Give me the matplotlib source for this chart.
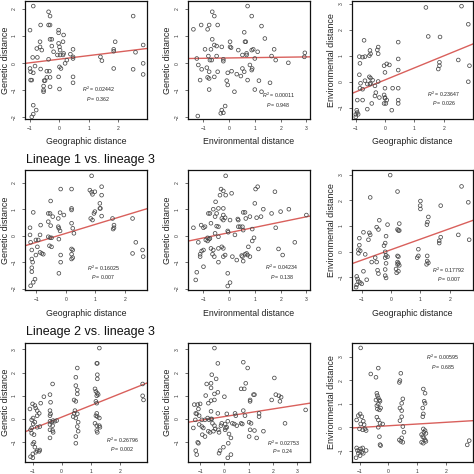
import matplotlib
matplotlib.use("Agg")
import matplotlib.pyplot as plt

plt.rcParams['font.family'] = ['Liberation Sans', 'DejaVu Sans']
plt.rcParams['mathtext.fontset'] = 'custom'
plt.rcParams['mathtext.rm'] = 'Liberation Sans'
plt.rcParams['mathtext.it'] = 'Liberation Sans:italic'

# ---------------- data ----------------
titles = ["Lineage 1 vs. lineage 3", "Lineage 2 vs. lineage 3"]
xlabels = ["Geographic distance", "Environmental distance", "Geographic distance"]
ylabels = ["Genetic distance", "Genetic distance", "Environmental distance"]

# row 1
p1_x = [-0.88, -0.99, -0.36, -0.31, -0.36, -0.31, -0.63, -0.02, -0.02, 0.15,
        -0.65, -0.25, -0.31, -0.65, -0.59, -0.76, -0.25, -0.19, -0.02, 0.01,
        0.03, 0.13, 0.15, 0.13, -0.06, 0.03, 0.47, 0.47, 0.47, 0.26,
        0.20, 0.38, -0.36, -0.74, -0.90, -0.99, -0.97, -0.88, -0.93, -0.97,
        -0.82, -0.63, -0.42, -0.33, -0.31, -0.42, -0.51, -0.48, -0.53, -0.53,
        -0.53, -0.31, -0.02, 0.01, 0.01, 0.06, 0.47, 0.47, -0.88, -0.78,
        -0.88, -0.93, 1.40, 1.45, 1.90, 1.85, 1.85, 1.85, 2.51, 2.59,
        2.51, 2.85, 2.85, 2.85]
p1_y = [2.11, 1.22, 1.90, 1.74, 1.41, 1.41, 1.41, 1.22, 1.12, 1.04,
        0.79, 0.88, 0.88, 0.60, 0.48, 0.54, 0.63, 0.42, 0.73, 0.60,
        0.48, 0.79, 0.36, 0.30, 0.30, 0.30, 0.51, 0.23, 0.17, 0.11,
        -0.01, 0.33, 0.14, 0.21, 0.21, -0.20, -0.32, -0.36, -0.63, -0.63,
        -0.11, -0.22, -0.30, -0.30, -0.53, -0.53, -0.65, -0.65, -0.85, -1.06,
        -1.00, -0.88, -0.51, -0.96, -0.14, -0.20, -0.51, -0.73, -1.56, -1.74,
        -1.89, -1.99, 0.23, 0.09, 0.79, 0.51, 0.44, -0.20, 1.74, 0.40,
        -0.23, 0.67, -0.01, -0.42]

p2_x = [-1.38, -1.08, -0.77, -0.65, -0.57, -0.44, -0.83, -0.93, -0.65, -0.57,
        -0.48, -0.70, -0.48, -0.80, -0.74, -0.67, -1.25, -0.28, -0.22, -0.22,
        0.04, 0.04, 0.08, 0.59, 0.62, 0.65, 0.68, 0.68, 0.36, 0.72,
        0.88, 0.88, 0.94, 1.11, 1.26, 1.39, -1.19, -1.06, -0.86, -0.77,
        -0.83, -0.77, -1.12, -0.57, -0.44, -0.77, -0.05, 0.10, -0.09, -0.05,
        0.21, 0.30, 0.46, 0.52, 0.59, 0.72, 0.81, 0.88, 0.90, 1.00,
        1.00, 1.16, 1.26, 1.59, 1.65, 1.75, 1.81, 2.30, 2.92, 2.94,
        -0.15, -0.28, -0.22, -0.32, -1.21, 0.52]
p2_y = [1.25, 1.41, 1.41, 1.90, 1.74, 1.41, 1.25, 0.51, 0.88, 0.67,
        0.63, 0.51, 0.26, 0.26, 0.11, 0.11, 0.17, 0.60, 0.14, 0.07,
        0.79, 0.60, 0.57, 1.14, 0.79, 0.79, 0.36, 0.30, 0.48, 2.11,
        1.74, 0.48, 0.51, 0.42, 1.37, 0.91, -0.07, -0.23, -0.17, -0.32,
        -0.53, -0.57, -0.63, -0.51, -0.32, -0.98, -0.36, -0.30, -0.65, -0.81,
        -1.06, -0.41, -0.48, -0.20, -0.32, -0.63, -0.07, -0.26, -0.20, 0.17,
        -0.98, -0.65, -1.06, -0.73, 0.26, 0.51, 0.11, 0.01, 0.23, 0.38,
        -1.59, -1.74, -1.84, -1.86, -1.96, 0.30]

p3_x = [1.39, 2.60, 2.83, 1.47, 1.87, -0.71, 0.45, -0.87, -0.76, -0.68,
        -0.85, -0.51, -0.49, -0.53, -0.23, -0.26, -0.23, -0.03, 0.06, 0.15,
        0.00, 0.45, 0.45, -0.87, -0.53, -0.49, -0.68, -0.60, -0.83, -0.85,
        -0.76, -0.49, -0.51, -0.42, -0.34, -0.23, -0.31, -0.34, -0.19, 0.00,
        -0.03, 0.00, 0.00, 0.06, 0.03, -0.03, 0.23, 0.26, 0.45, 0.45,
        0.45, -0.76, -0.60, -0.45, -0.94, -0.96, -0.94, -0.99, -0.91, -0.99,
        1.85, 1.85, 1.81, 2.49, 2.87, 2.83]
p3_y = [2.87, 2.92, 2.22, 1.75, 1.73, 1.60, 1.53, 0.97, 0.95, 0.97,
        0.71, 1.21, 1.08, 1.01, 1.34, 1.23, 1.08, 0.62, 0.69, 0.65,
        0.36, 0.45, 0.88, 0.27, 0.19, 0.14, 0.04, -0.09, -0.06, -0.25,
        -0.29, -0.06, -0.09, 0.06, -0.16, 0.01, -0.42, -0.55, -0.61, -0.25,
        -0.51, -0.61, -0.64, -0.71, -0.84, -0.84, -1.10, -0.25, -0.25, -0.71,
        -0.84, -0.71, -1.06, -0.84, -0.71, -1.10, -1.19, -1.26, -1.26, -1.36,
        0.75, 0.62, 0.49, 0.84, 0.62, 0.00]

# row 2
p4_x = [0.87, -0.18, 0.19, 0.81, 0.87, 0.90, 0.98, 1.21, 1.21, -0.52,
        1.15, 1.17, 1.15, -1.11, -0.60, -0.54, -0.45, -0.26, -0.20, -0.07,
        0.19, 0.19, 0.98, 0.95, 1.21, 0.84, 0.90, 1.58, 2.26, 1.63,
        1.63, 1.60, -1.22, -0.86, -0.60, -0.52, -0.26, -0.24, -0.20, 0.19,
        0.23, 0.27, -1.22, -1.20, -0.88, -1.02, -0.94, -0.97, -0.60, -0.54,
        -0.49, -0.56, -0.49, -0.24, -0.88, -0.82, -0.77, -1.02, -1.16, -1.16,
        -1.13, -1.16, -1.16, -1.05, -1.11, -1.20, -0.18, -0.18, -0.24, 0.19,
        0.23, 0.19, 0.23, 0.19, 2.26, 2.37, 2.60, 2.62]
p4_y = [2.26, 1.76, 1.76, 1.72, 1.64, 1.56, 1.66, 1.85, 1.53, 1.31,
        1.22, 1.03, 1.03, 0.88, 0.84, 0.84, 0.72, 0.65, 0.87, 0.78,
        1.03, 0.97, 0.91, 0.84, 0.74, 0.65, 0.59, 0.65, 0.65, 0.40,
        0.30, 0.25, 0.30, 0.40, 0.53, 0.38, 0.34, 0.28, 0.18, 0.47,
        0.28, 0.09, 0.03, -0.25, 0.03, -0.16, -0.16, -0.42, -0.04, -0.08,
        -0.08, -0.38, -0.42, -0.13, -0.63, -0.67, -0.70, -0.73, -0.54, -0.88,
        -1.00, -1.21, -1.36, -1.64, -1.76, -1.89, -0.73, -1.00, -1.42, -0.50,
        -0.54, -0.70, -0.83, -0.88, -0.67, -0.25, -0.54, -0.79]

p5_x = [-0.13, -0.31, -0.22, -0.13, 0.10, -0.35, -0.52, -0.61, -0.41, -0.22,
        -0.80, -0.74, -0.48, -0.22, -0.15, -0.28, -0.22, -0.54, -0.70, -0.93,
        -0.99, -1.38, -1.08, -0.48, -0.41, -0.54, -0.83, -0.77, -0.74, -0.90,
        -0.83, -1.19, -0.41, -0.05, -0.03, 0.04, 0.23, 0.36, 0.43, 0.52,
        0.55, 0.55, 0.62, 0.34, 0.36, 0.65, 0.81, 1.00, 1.03, 1.11,
        1.07, 1.24, 1.33, 1.65, 1.78, 2.00, 2.32, 3.00, 1.81, 0.90,
        0.97, 0.90, 0.75, 0.49, 0.52, 0.62, 0.68, 0.72, 0.81, 0.55,
        0.30, 0.13, -0.22, -0.15, -0.41, -0.57, -0.64, -0.70, -0.61, -0.41,
        -0.28, -0.22, -1.06, -1.12, -0.99, -1.12, -0.99, -1.25, -1.29, -0.05,
        0.04, -0.05, 1.14, 1.92, 2.08, 2.55]
p5_y = [2.26, 1.76, 1.69, 1.53, 1.60, 1.53, 1.28, 1.00, 1.03, 1.03,
        0.84, 0.84, 0.84, 0.78, 0.68, 0.65, 0.59, 0.72, 0.47, 0.34,
        0.30, 0.30, 0.40, 0.36, 0.34, 0.09, -0.08, -0.13, -0.10, -0.16,
        -0.20, -0.25, -0.04, 0.18, 0.13, 0.59, 0.03, 0.34, 0.34, 0.34,
        0.21, 0.88, 0.88, 0.63, 0.59, 0.65, 0.72, 1.22, 1.76, 1.85,
        0.68, 0.72, 1.00, 0.84, 1.66, 0.91, 1.00, 0.78, 0.30, 0.25,
        -0.08, -0.20, -0.42, -0.75, -0.79, -0.70, -0.67, -0.73, -0.79, -0.96,
        -0.92, -0.79, -0.79, -0.73, -1.00, -0.79, -0.70, -0.48, -0.54, -0.48,
        -0.42, -0.48, -0.58, -0.70, -0.54, -0.79, -1.17, -1.38, -1.67, -1.42,
        -1.77, -1.90, -0.50, -0.50, -0.73, -0.25]

p6_x = [-0.03, 0.22, -0.71, 2.40, 2.63, 1.00, 0.99, 1.00, 1.69, 1.27,
        1.24, 1.22, -0.40, -0.12, 0.28, -0.49, -0.43, 0.22, 0.25, 0.28,
        -0.94, -0.74, -0.71, -0.17, -1.08, -0.77, -0.20, -0.24, -1.08, -1.11,
        -1.05, -1.11, -0.88, -0.20, -0.17, -0.12, -0.20, -0.54, 0.22, 0.25,
        0.22, 0.25, 0.22, 0.28, 0.17, 0.25, 0.19, -0.17, -0.20, -0.20,
        -0.17, -0.49, -0.46, -0.43, -0.66, -0.94, -1.17, -1.14, -1.11, -1.17,
        -1.05, -1.00, -1.19, -0.83, 0.93, 0.93, 0.89, 1.23, 1.23, 1.27,
        1.21, 1.64, 1.69, 1.64, 2.29, 2.66]
p6_y = [2.98, 2.34, 2.11, 2.54, 1.92, 1.97, 1.79, 1.66, 1.79, 1.35,
        1.15, 1.05, 1.22, 1.05, 1.09, 0.95, 0.86, 0.86, 0.82, 0.82,
        0.75, 0.73, 0.65, 0.60, 0.52, 0.46, 0.33, 0.23, 0.25, 0.07,
        0.03, -0.07, -0.11, -0.01, -0.15, -0.20, -0.24, -0.24, -0.17, -0.20,
        -0.41, -0.46, -0.50, -0.54, -0.68, -0.77, -0.83, -0.46, -0.70, -0.94,
        -1.03, -0.41, -0.73, -0.86, -0.41, -0.77, -0.97, -1.07, -1.17, -1.30,
        -1.21, -1.26, -1.39, -1.10, 0.09, -0.17, -0.24, -0.17, -0.37, -0.44,
        -0.50, 0.42, 0.56, 0.33, 0.65, 0.46]

# row 3
p7_x = [1.30, 1.21, 1.23, 0.54, 1.23, 1.23, 0.49, -0.31, 0.49, 0.54,
        0.54, 1.15, 1.18, 1.23, 1.26, 1.21, -0.40, -0.61, 2.79, 2.82,
        2.79, 0.43, 0.49, -0.38, 1.21, 1.18, -0.40, -0.38, -0.40, -1.00,
        -0.92, -0.89, -1.09, -0.84, -0.77, -0.84, -0.72, 0.46, 0.43, 0.54,
        0.40, 0.49, 1.21, 1.18, 1.23, 1.30, -0.98, -1.03, -0.92, -0.98,
        -1.03, -1.07, -0.84, -0.75, -0.40, -0.34, -0.29, -0.23, -0.17, -0.40,
        -0.31, -0.40, -0.31, -0.29, -0.40, 0.57, 0.54, 0.57, 0.49, 0.49,
        1.15, 1.21, 1.30, 1.21, 1.23, 1.32, -1.03, -0.95, -0.99, -0.95,
        -0.92, -0.84, -0.77, -0.75, -0.99, -1.07, -0.99, -0.89]
p7_y = [3.06, 2.40, 2.40, 2.20, 1.91, 1.73, 1.80, 1.51, 1.44, 1.25,
        1.08, 1.30, 1.19, 1.11, 1.05, 1.00, 1.05, 0.96, 1.00, 0.82,
        1.51, 0.82, 0.76, 0.72, 0.68, 0.76, 0.36, 0.22, 0.14, 0.65,
        0.58, 0.47, 0.43, 0.36, 0.24, 0.14, 0.68, 0.36, 0.24, 0.22,
        0.10, 0.04, 0.24, 0.14, 0.10, 0.04, 0.04, -0.04, -0.14, -0.22,
        -0.39, -0.47, -0.36, -0.33, -0.10, -0.14, -0.07, -0.10, -0.07, -0.24,
        -0.29, -0.47, -0.50, -0.58, -0.82, -0.14, -0.33, -0.53, -0.76, -1.05,
        -0.19, -0.29, -0.29, -0.50, -0.58, -0.36, -0.62, -0.68, -1.08, -1.01,
        -1.22, -1.37, -1.40, -1.34, -1.51, -1.63, -1.68, -1.44]

p8_x = [-0.41, -0.27, 0.78, 0.96, -0.52, -0.73, -0.55, -0.34, 0.88, -0.55,
        0.69, 0.82, -0.41, -0.27, 0.00, -0.77, 1.20, 1.24, 1.06, 1.06,
        2.06, 2.12, 2.25, 2.34, 2.29, 1.95, 3.35, 2.50, -1.24, -1.10,
        -1.00, -1.07, -0.66, -0.55, -0.41, -0.55, -0.27, -1.18, -1.14, -1.04,
        -1.20, -1.28, -0.93, -1.04, -0.80, -0.69, -0.63, -0.55, -0.52, -0.93,
        -0.87, -0.49, -0.41, -0.38, -0.45, -0.66, -0.59, -0.91, -0.80, -1.10,
        -1.07, -1.18, -1.14, -0.22, -0.25, -0.14, -0.11, 0.10, 0.14, 0.03,
        0.05, 0.03, 0.10, 0.19, 0.33, 0.41, 0.51, 0.44, 0.47, -0.04,
        0.16, 0.27, -0.18, -0.22, 0.14, 0.27, 0.78, 0.85, 0.69, 0.74,
        1.02, 1.10, 1.06, 1.02, 1.24, 1.33, 1.43, 1.43, 1.61]
p8_y = [3.06, 2.40, 2.45, 2.20, 1.91, 1.51, 1.54, 1.73, 1.54, 1.34,
        1.30, 1.30, 1.08, 1.15, 0.96, 1.01, 1.05, 1.05, 0.82, 0.76,
        1.77, 1.05, 1.00, 0.94, 0.76, 0.82, 0.39, -0.19, 0.62, 0.62,
        0.65, 0.43, 0.68, 0.79, 0.82, 0.33, 0.24, 0.24, 0.22, 0.14,
        -0.04, -0.39, -0.04, -0.24, -0.04, 0.04, -0.04, 0.00, 0.00, -0.33,
        -0.39, -0.19, -0.29, -0.43, -0.53, -0.53, -0.58, -0.68, -0.76, -1.01,
        -1.05, -1.37, -1.54, -0.58, -0.47, -0.29, -0.19, 0.22, -0.10, -0.22,
        -0.39, -0.47, -0.36, -0.65, -0.19, -0.22, -0.29, 0.24, 0.14, -1.22,
        -1.05, -0.82, -1.37, -1.48, -1.68, -1.54, 0.36, 0.14, -0.19, -0.22,
        -0.14, -0.19, -0.47, -0.76, -0.50, -0.82, 0.24, 0.10, -0.53]

p9_x = [-0.96, -0.61, -0.43, -0.35, 0.43, 0.40, 0.38, -0.40, -0.38, -0.35,
        -0.31, -0.29, -0.35, -0.40, -0.38, -0.31, -0.27, -0.43, 1.21, 1.27,
        1.24, 1.27, 1.19, 1.21, 1.19, 0.50, 0.46, 0.40, 0.46, -0.40,
        -0.35, -0.29, -0.20, 0.46, 0.40, 0.54, 0.50, -1.10, -1.04, -0.98,
        -0.92, -0.87, -0.96, -1.00, -0.89, -0.84, -0.81, -0.77, -0.35, -0.31,
        -0.27, -0.29, 0.38, 0.43, 0.50, 0.46, 1.21, 1.27, 1.23, 1.30,
        1.15, 1.19, 1.23, 1.27, 1.15, 1.30, 1.21, 2.80, 2.73, -1.10,
        -1.07, -1.00, -1.04, -0.96, -0.92, -1.12, -0.98, -0.87, -0.89, -0.77]
p9_y = [3.38, 2.27, 2.13, 2.52, 2.30, 1.99, 1.91, 1.45, 1.35, 1.25,
        1.16, 1.11, 0.99, 0.92, 0.78, 0.74, 0.82, 1.16, 1.63, 1.45,
        1.11, 1.02, 0.82, 0.57, 0.45, 1.21, 1.02, 0.82, 0.71, 0.43,
        0.31, 0.17, 0.14, 0.45, 0.28, -0.21, 0.03, 0.31, 0.50, 0.57,
        0.45, 0.26, 0.14, -0.07, -0.11, 0.11, -0.07, -0.14, 0.00, -0.40,
        -0.78, -0.74, -0.54, -0.60, -0.64, -0.45, -0.07, -0.14, -0.21, -0.26,
        -0.31, -0.40, -0.45, -0.54, -0.64, -0.60, -0.68, -0.57, -0.75, -0.88,
        -0.99, -1.02, -1.11, -0.92, -1.06, -1.30, -1.21, -1.11, -0.88, -0.99]

# regression lines (intercept, slope) and statistics
intercepts = [0.144, 0.19, 0.07, 0.09, 0.114, 0.073, 0.077, 0.103, 0.064]
slopes = [0.133, 0.013, 0.465, 0.338, 0.20, 0.41, 0.502, 0.164, 0.074]
r2_values = ["0.02442", "0.00011", "0.23647", "0.16025", "0.04234",
             "0.17792", "0.26796", "0.02753", "0.00595"]
p_values = ["0.362", "0.948", "0.026", "0.007", "0.138", "0.007",
            "0.002", "0.24", "0.685"]

# ---------------- layout / style ----------------
xs = [p1_x, p2_x, p3_x, p4_x, p5_x, p6_x, p7_x, p8_x, p9_x]
ys = [p1_y, p2_y, p3_y, p4_y, p5_y, p6_y, p7_y, p8_y, p9_y]
xlims = [(-1.16, 2.98), (-1.59, 3.14), (-1.12, 2.99),
         (-1.39, 2.75), (-1.59, 3.14), (-1.33, 2.79),
         (-1.26, 2.94), (-1.50, 3.53), (-1.26, 2.93)]
ylims = [(-2.07, 2.28), (-2.07, 2.28), (-1.44, 3.10),
         (-2.05, 2.48), (-2.05, 2.48), (-1.50, 3.18),
         (-1.86, 3.28), (-1.86, 3.28), (-1.48, 3.59)]
xticks = [[-1, 0, 1, 2], [-1, 0, 1, 2, 3], [-1, 0, 1, 2]] * 3
yticks = [[-2, -1, 0, 1, 2], [-2, -1, 0, 1, 2], [-1, 0, 1, 2, 3],
          [-2, -1, 0, 1, 2], [-2, -1, 0, 1, 2], [-1, 0, 1, 2, 3],
          [-1, 0, 1, 2, 3], [-1, 0, 1, 2, 3], [-1, 0, 1, 2, 3]]
stat_pos = [(0.60, 0.25, 0.17), (0.74, 0.20, 0.12), (0.76, 0.21, 0.14),
            (0.64, 0.18, 0.11), (0.77, 0.19, 0.11), (0.80, 0.16, 0.09),
            (0.80, 0.18, 0.11), (0.78, 0.16, 0.09), (0.75, 0.88, 0.80)]

W = H = 474.0
cols = [(25, 147), (188, 310), (352, 473)]
rows = [(1.5, 119), (170, 290), (343, 462)]

fig = plt.figure(figsize=(4.74, 4.74), dpi=100)
fig.patch.set_facecolor('white')

line_color = '#d9605c'
pt_color = '#4a4a4a'

for i in range(9):
    r, c = divmod(i, 3)
    L, R = cols[c]
    T, B = rows[r]
    ax = fig.add_axes([L / W, 1 - B / H, (R - L) / W, (B - T) / H])
    ax.scatter(xs[i], ys[i], s=7, facecolors='none', edgecolors=pt_color,
               linewidths=0.55, zorder=3)
    ax.axline((0, intercepts[i]), slope=slopes[i], color=line_color, lw=1.0, zorder=2)
    ax.set_xlim(*xlims[i])
    ax.set_ylim(*ylims[i])
    ax.set_xticks(xticks[i])
    ax.set_yticks(yticks[i])
    ax.tick_params(direction='out', length=2.2, width=0.5, labelsize=3.6,
                   colors='#333333', pad=2.5)
    ax.tick_params(axis='y', labelrotation=90, pad=4)
    for lab in ax.get_yticklabels():
        lab.set_va('center')
    for sp in ax.spines.values():
        sp.set_linewidth(0.9)
        sp.set_color('#111111')
    # the bottom row's x labels fall outside the visible picture
    if r < 2:
        ax.set_xlabel(xlabels[c], fontsize=6.3, color='#222222', va='center')
        ax.xaxis.set_label_coords(0.5, -23 / (B - T))
    ax.set_ylabel(ylabels[c], fontsize=6.5, color='#222222', va='center')
    ax.yaxis.set_label_coords(-(19.5 if c == 0 else 21) / (R - L), 0.5)
    fx, fy1, fy2 = stat_pos[i]
    ax.text(fx, fy1, r'$R^2$ = ' + r2_values[i], transform=ax.transAxes,
            fontsize=3.8, ha='center', va='center', color='#222222')
    ax.text(fx, fy2, r'$P$ = ' + p_values[i], transform=ax.transAxes,
            fontsize=3.8, ha='center', va='center', color='#222222')

fig.text(90 / W, 1 - 160 / H, titles[0], fontsize=9, ha='center', va='center',
         color='#111111')
fig.text(90 / W, 1 - 332 / H, titles[1], fontsize=9, ha='center', va='center',
         color='#111111')

fig.savefig('out.png', dpi=100, facecolor='white')
